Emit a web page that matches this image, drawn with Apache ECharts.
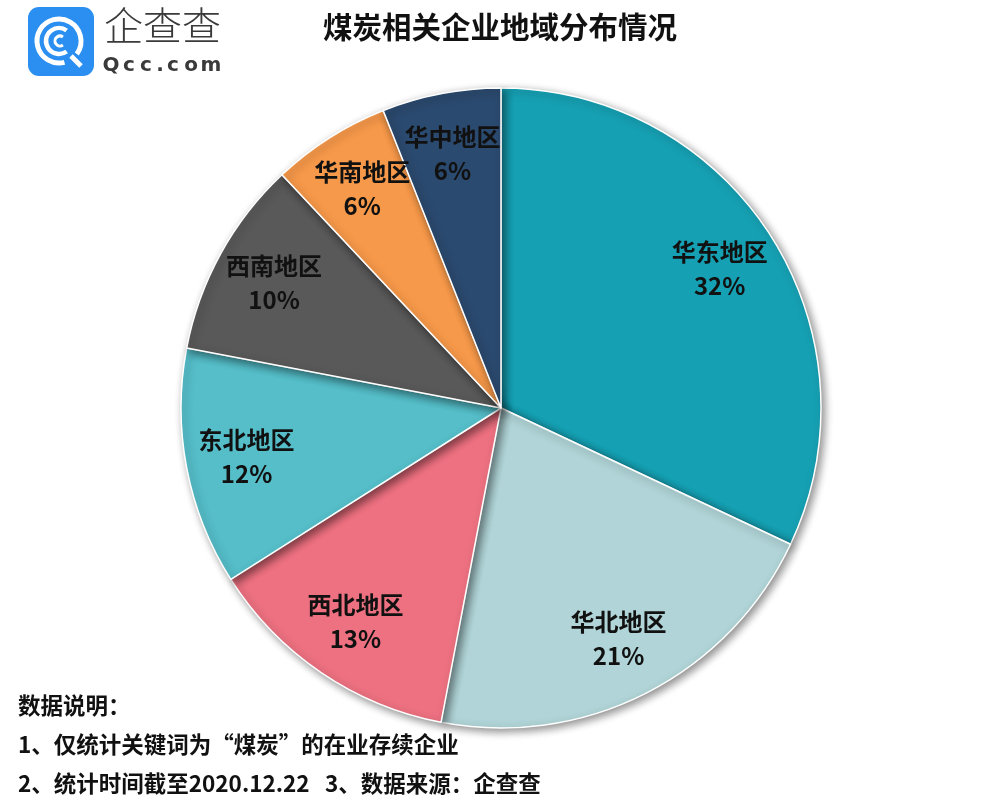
<!DOCTYPE html>
<html>
<head>
<meta charset="utf-8">
<script src="https://cdn.jsdelivr.net/npm/echarts@6/dist/echarts.min.js"></script>
<style>
  html, body { margin: 0; padding: 0; background: #fff; }
  #chart { width: 1000px; height: 800px; }
</style>
</head>
<body>
<div id="chart"></div>
<script>
  const regions = ['华东地区', '华北地区', '西北地区', '东北地区', '西南地区', '华南地区', '华中地区']
  const shares = [32, 21, 13, 12, 10, 6, 6]
  const colors = ['#16a0b3', '#b0d4d7', '#ee7181', '#55bec9', '#595959', '#f7994a', '#2b4a6f']
  const notes = [
    '数据说明：',
    '1、仅统计关键词为“煤炭”的在业存续企业',
    '2、统计时间截至2020.12.22   3、数据来源：企查查'
  ]

  const font = '"Noto Sans CJK SC", "Noto Sans", sans-serif'
  const chart = echarts.init(document.getElementById('chart'))

  const data = regions.map((name, i) => ({
    name,
    value: shares[i],
    itemStyle: { color: colors[i] }
  }))

  // logo letters spaced by hand
  const logoLetters = ['Q', 'c', 'c', '.', 'c', 'o', 'm']
  const logoX = [111, 129, 146, 160, 173, 191, 211]

  const graphic = [
    {
      type: 'rect',
      shape: { x: 28, y: 7, width: 66, height: 69, r: 11 },
      style: { fill: '#2a8ff0' }
    },
    {
      type: 'arc',
      shape: { cx: 59, cy: 41, r: 22, startAngle: 0.42 * Math.PI, endAngle: 2.2 * Math.PI },
      style: { stroke: '#fff', lineWidth: 5, fill: null }
    },
    {
      type: 'arc',
      shape: { cx: 59, cy: 41, r: 13, startAngle: 0.3 * Math.PI, endAngle: 1.7 * Math.PI },
      style: { stroke: '#fff', lineWidth: 4.5, fill: null }
    },
    {
      type: 'arc',
      shape: { cx: 60, cy: 41, r: 5, startAngle: 0.3 * Math.PI, endAngle: 1.7 * Math.PI },
      style: { stroke: '#fff', lineWidth: 3, fill: null }
    },
    {
      type: 'line',
      shape: { x1: 71, y1: 56, x2: 81, y2: 66 },
      style: { stroke: '#fff', lineWidth: 5 }
    },
    {
      type: 'text',
      left: 104, top: 6,
      style: { text: '企查查', font: '300 39px ' + font, fill: '#3a3a3a' }
    },
    ...logoLetters.map((ch, i) => ({
      type: 'text',
      x: logoX[i], y: 66,
      style: { text: ch, font: 'bold 20px "DejaVu Sans", sans-serif', fill: '#3a3a3a', align: 'center', verticalAlign: 'middle' }
    })),
    ...notes.map((t, i) => ({
      type: 'text',
      x: 18, y: 705 + i * 39,
      style: { text: t, font: 'bold 22.5px ' + font, fill: '#111', verticalAlign: 'middle' }
    }))
  ]

  chart.setOption({
    title: {
      text: '煤炭相关企业地域分布情况',
      left: 'center',
      top: 7,
      textStyle: { fontFamily: font, fontSize: 29.5, fontWeight: 'bold', color: '#111' }
    },
    graphic,
    series: [
      {
        type: 'pie',
        center: [501, 408],
        radius: [0, 320],
        startAngle: 90,
        clockwise: true,
        silent: true,
        label: { show: false },
        labelLine: { show: false },
        itemStyle: {
          borderColor: '#fff',
          borderWidth: 1.5,
          shadowColor: 'rgba(0,0,0,0.45)',
          shadowBlur: 8,
          shadowOffsetX: 3,
          shadowOffsetY: 3
        },
        data
      },
      {
        // transparent ring just to carry the labels further out
        type: 'pie',
        center: [501, 408],
        radius: [192, 320],
        startAngle: 90,
        clockwise: true,
        silent: true,
        avoidLabelOverlap: false,
        labelLayout: { hideOverlap: false },
        itemStyle: { color: 'transparent' },
        label: {
          show: true,
          position: 'inside',
          formatter: p => p.name + '\n' + p.value + '%',
          fontFamily: font,
          fontSize: 24,
          fontWeight: 'bold',
          lineHeight: 34,
          color: '#111'
        },
        labelLine: { show: false },
        data: regions.map((name, i) => ({ name, value: shares[i] }))
      }
    ]
  })
</script>
</body>
</html>
